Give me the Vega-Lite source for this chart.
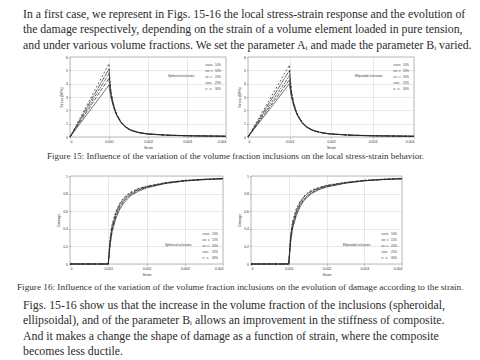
{
"$schema":"https://vega.github.io/schema/vega-lite/v6.json",
"background":"white",
"padding":{"left":17,"top":8,"right":5,"bottom":0},
"title":{"text":["In a first case, we represent in Figs. 15-16 the local stress-strain response and the evolution of","the damage respectively, depending on the strain of a volume element loaded in pure tension,","and under various volume fractions. We set the parameter Aᵢ and made the parameter Bᵢ varied."],"orient":"top","anchor":"start","frame":"group","dx":-47,"font":"Liberation Serif","fontSize":11.8,"fontWeight":"normal","color":"#2b2b2b","lineHeight":15.5,"offset":3},
"datasets":{
"stressS":[
{"strain":0,"stress":0,"vf":"10%"},{"strain":0,"stress":0,"vf":"15%"},{"strain":0,"stress":0,"vf":"20%"},{"strain":0,"stress":0,"vf":"25%"},{"strain":0,"stress":0,"vf":"30%"},
{"strain":0.001,"stress":3.9,"vf":"10%"},{"strain":0.001,"stress":4.4,"vf":"15%"},{"strain":0.001,"stress":4.75,"vf":"20%"},{"strain":0.001,"stress":5.1,"vf":"25%"},{"strain":0.001,"stress":5.5,"vf":"30%"},
{"strain":0.00102,"stress":3.45,"vf":"10%"},{"strain":0.00102,"stress":3.8,"vf":"15%"},{"strain":0.00102,"stress":4.0,"vf":"20%"},{"strain":0.00102,"stress":4.2,"vf":"25%"},{"strain":0.00102,"stress":4.4,"vf":"30%"},
{"strain":0.00105,"stress":2.95,"vf":"10%"},{"strain":0.00105,"stress":3.15,"vf":"15%"},{"strain":0.00105,"stress":3.25,"vf":"20%"},{"strain":0.00105,"stress":3.35,"vf":"25%"},{"strain":0.00105,"stress":3.45,"vf":"30%"},
{"strain":0.0011,"stress":2.4,"vf":"10%"},{"strain":0.0011,"stress":2.48,"vf":"15%"},{"strain":0.0011,"stress":2.54,"vf":"20%"},{"strain":0.0011,"stress":2.6,"vf":"25%"},{"strain":0.0011,"stress":2.65,"vf":"30%"},
{"strain":0.00115,"stress":1.95,"vf":"10%"},{"strain":0.00115,"stress":2.0,"vf":"15%"},{"strain":0.00115,"stress":2.04,"vf":"20%"},{"strain":0.00115,"stress":2.07,"vf":"25%"},{"strain":0.00115,"stress":2.1,"vf":"30%"},
{"strain":0.0012,"stress":1.6,"vf":"10%"},{"strain":0.0012,"stress":1.63,"vf":"15%"},{"strain":0.0012,"stress":1.66,"vf":"20%"},{"strain":0.0012,"stress":1.68,"vf":"25%"},{"strain":0.0012,"stress":1.7,"vf":"30%"},
{"strain":0.0013,"stress":1.1,"vf":"10%"},{"strain":0.0013,"stress":1.12,"vf":"15%"},{"strain":0.0013,"stress":1.14,"vf":"20%"},{"strain":0.0013,"stress":1.16,"vf":"25%"},{"strain":0.0013,"stress":1.18,"vf":"30%"},
{"strain":0.0014,"stress":0.78,"vf":"10%"},{"strain":0.0014,"stress":0.8,"vf":"15%"},{"strain":0.0014,"stress":0.82,"vf":"20%"},{"strain":0.0014,"stress":0.83,"vf":"25%"},{"strain":0.0014,"stress":0.85,"vf":"30%"},
{"strain":0.0015,"stress":0.58,"vf":"10%"},{"strain":0.0015,"stress":0.6,"vf":"15%"},{"strain":0.0015,"stress":0.61,"vf":"20%"},{"strain":0.0015,"stress":0.62,"vf":"25%"},{"strain":0.0015,"stress":0.63,"vf":"30%"},
{"strain":0.0016,"stress":0.45,"vf":"10%"},{"strain":0.0016,"stress":0.46,"vf":"15%"},{"strain":0.0016,"stress":0.47,"vf":"20%"},{"strain":0.0016,"stress":0.48,"vf":"25%"},{"strain":0.0016,"stress":0.49,"vf":"30%"},
{"strain":0.0018,"stress":0.3,"vf":"10%"},{"strain":0.0018,"stress":0.31,"vf":"15%"},{"strain":0.0018,"stress":0.31,"vf":"20%"},{"strain":0.0018,"stress":0.32,"vf":"25%"},{"strain":0.0018,"stress":0.32,"vf":"30%"},
{"strain":0.002,"stress":0.22,"vf":"10%"},{"strain":0.002,"stress":0.22,"vf":"15%"},{"strain":0.002,"stress":0.23,"vf":"20%"},{"strain":0.002,"stress":0.23,"vf":"25%"},{"strain":0.002,"stress":0.24,"vf":"30%"},
{"strain":0.0025,"stress":0.13,"vf":"10%"},{"strain":0.0025,"stress":0.13,"vf":"15%"},{"strain":0.0025,"stress":0.14,"vf":"20%"},{"strain":0.0025,"stress":0.14,"vf":"25%"},{"strain":0.0025,"stress":0.14,"vf":"30%"},
{"strain":0.003,"stress":0.09,"vf":"10%"},{"strain":0.003,"stress":0.09,"vf":"15%"},{"strain":0.003,"stress":0.1,"vf":"20%"},{"strain":0.003,"stress":0.1,"vf":"25%"},{"strain":0.003,"stress":0.1,"vf":"30%"},
{"strain":0.004,"stress":0.05,"vf":"10%"},{"strain":0.004,"stress":0.05,"vf":"15%"},{"strain":0.004,"stress":0.06,"vf":"20%"},{"strain":0.004,"stress":0.06,"vf":"25%"},{"strain":0.004,"stress":0.06,"vf":"30%"}
],
"stressE":[
{"strain":0,"stress":0,"vf":"10%"},{"strain":0,"stress":0,"vf":"15%"},{"strain":0,"stress":0,"vf":"20%"},{"strain":0,"stress":0,"vf":"25%"},{"strain":0,"stress":0,"vf":"30%"},
{"strain":0.001,"stress":4.0,"vf":"10%"},{"strain":0.001,"stress":4.3,"vf":"15%"},{"strain":0.001,"stress":4.6,"vf":"20%"},{"strain":0.001,"stress":5.0,"vf":"25%"},{"strain":0.001,"stress":5.4,"vf":"30%"},
{"strain":0.00102,"stress":3.5,"vf":"10%"},{"strain":0.00102,"stress":3.75,"vf":"15%"},{"strain":0.00102,"stress":3.95,"vf":"20%"},{"strain":0.00102,"stress":4.15,"vf":"25%"},{"strain":0.00102,"stress":4.35,"vf":"30%"},
{"strain":0.00105,"stress":2.95,"vf":"10%"},{"strain":0.00105,"stress":3.1,"vf":"15%"},{"strain":0.00105,"stress":3.2,"vf":"20%"},{"strain":0.00105,"stress":3.3,"vf":"25%"},{"strain":0.00105,"stress":3.4,"vf":"30%"},
{"strain":0.0011,"stress":2.35,"vf":"10%"},{"strain":0.0011,"stress":2.42,"vf":"15%"},{"strain":0.0011,"stress":2.48,"vf":"20%"},{"strain":0.0011,"stress":2.54,"vf":"25%"},{"strain":0.0011,"stress":2.6,"vf":"30%"},
{"strain":0.00115,"stress":1.9,"vf":"10%"},{"strain":0.00115,"stress":1.95,"vf":"15%"},{"strain":0.00115,"stress":1.99,"vf":"20%"},{"strain":0.00115,"stress":2.02,"vf":"25%"},{"strain":0.00115,"stress":2.05,"vf":"30%"},
{"strain":0.0012,"stress":1.55,"vf":"10%"},{"strain":0.0012,"stress":1.58,"vf":"15%"},{"strain":0.0012,"stress":1.61,"vf":"20%"},{"strain":0.0012,"stress":1.63,"vf":"25%"},{"strain":0.0012,"stress":1.65,"vf":"30%"},
{"strain":0.0013,"stress":1.05,"vf":"10%"},{"strain":0.0013,"stress":1.08,"vf":"15%"},{"strain":0.0013,"stress":1.1,"vf":"20%"},{"strain":0.0013,"stress":1.12,"vf":"25%"},{"strain":0.0013,"stress":1.14,"vf":"30%"},
{"strain":0.0014,"stress":0.75,"vf":"10%"},{"strain":0.0014,"stress":0.77,"vf":"15%"},{"strain":0.0014,"stress":0.79,"vf":"20%"},{"strain":0.0014,"stress":0.8,"vf":"25%"},{"strain":0.0014,"stress":0.82,"vf":"30%"},
{"strain":0.0015,"stress":0.57,"vf":"10%"},{"strain":0.0015,"stress":0.58,"vf":"15%"},{"strain":0.0015,"stress":0.6,"vf":"20%"},{"strain":0.0015,"stress":0.61,"vf":"25%"},{"strain":0.0015,"stress":0.62,"vf":"30%"},
{"strain":0.0016,"stress":0.44,"vf":"10%"},{"strain":0.0016,"stress":0.45,"vf":"15%"},{"strain":0.0016,"stress":0.46,"vf":"20%"},{"strain":0.0016,"stress":0.47,"vf":"25%"},{"strain":0.0016,"stress":0.48,"vf":"30%"},
{"strain":0.0018,"stress":0.3,"vf":"10%"},{"strain":0.0018,"stress":0.3,"vf":"15%"},{"strain":0.0018,"stress":0.31,"vf":"20%"},{"strain":0.0018,"stress":0.31,"vf":"25%"},{"strain":0.0018,"stress":0.32,"vf":"30%"},
{"strain":0.002,"stress":0.22,"vf":"10%"},{"strain":0.002,"stress":0.22,"vf":"15%"},{"strain":0.002,"stress":0.23,"vf":"20%"},{"strain":0.002,"stress":0.23,"vf":"25%"},{"strain":0.002,"stress":0.23,"vf":"30%"},
{"strain":0.0025,"stress":0.13,"vf":"10%"},{"strain":0.0025,"stress":0.13,"vf":"15%"},{"strain":0.0025,"stress":0.13,"vf":"20%"},{"strain":0.0025,"stress":0.14,"vf":"25%"},{"strain":0.0025,"stress":0.14,"vf":"30%"},
{"strain":0.003,"stress":0.09,"vf":"10%"},{"strain":0.003,"stress":0.09,"vf":"15%"},{"strain":0.003,"stress":0.09,"vf":"20%"},{"strain":0.003,"stress":0.1,"vf":"25%"},{"strain":0.003,"stress":0.1,"vf":"30%"},
{"strain":0.004,"stress":0.05,"vf":"10%"},{"strain":0.004,"stress":0.05,"vf":"15%"},{"strain":0.004,"stress":0.05,"vf":"20%"},{"strain":0.004,"stress":0.06,"vf":"25%"},{"strain":0.004,"stress":0.06,"vf":"30%"}
],
"damS":[
{"strain":0,"damage":0,"vf":"10%"},{"strain":0,"damage":0,"vf":"15%"},{"strain":0,"damage":0,"vf":"20%"},{"strain":0,"damage":0,"vf":"25%"},{"strain":0,"damage":0,"vf":"30%"},
{"strain":0.001,"damage":0,"vf":"10%"},{"strain":0.001,"damage":0,"vf":"15%"},{"strain":0.001,"damage":0,"vf":"20%"},{"strain":0.001,"damage":0,"vf":"25%"},{"strain":0.001,"damage":0,"vf":"30%"},
{"strain":0.00105,"damage":0.22,"vf":"10%"},{"strain":0.00105,"damage":0.24,"vf":"15%"},{"strain":0.00105,"damage":0.26,"vf":"20%"},{"strain":0.00105,"damage":0.28,"vf":"25%"},{"strain":0.00105,"damage":0.3,"vf":"30%"},
{"strain":0.0011,"damage":0.36,"vf":"10%"},{"strain":0.0011,"damage":0.39,"vf":"15%"},{"strain":0.0011,"damage":0.41,"vf":"20%"},{"strain":0.0011,"damage":0.43,"vf":"25%"},{"strain":0.0011,"damage":0.45,"vf":"30%"},
{"strain":0.0012,"damage":0.52,"vf":"10%"},{"strain":0.0012,"damage":0.54,"vf":"15%"},{"strain":0.0012,"damage":0.56,"vf":"20%"},{"strain":0.0012,"damage":0.58,"vf":"25%"},{"strain":0.0012,"damage":0.6,"vf":"30%"},
{"strain":0.0013,"damage":0.62,"vf":"10%"},{"strain":0.0013,"damage":0.64,"vf":"15%"},{"strain":0.0013,"damage":0.66,"vf":"20%"},{"strain":0.0013,"damage":0.68,"vf":"25%"},{"strain":0.0013,"damage":0.69,"vf":"30%"},
{"strain":0.0014,"damage":0.69,"vf":"10%"},{"strain":0.0014,"damage":0.71,"vf":"15%"},{"strain":0.0014,"damage":0.72,"vf":"20%"},{"strain":0.0014,"damage":0.74,"vf":"25%"},{"strain":0.0014,"damage":0.75,"vf":"30%"},
{"strain":0.0015,"damage":0.74,"vf":"10%"},{"strain":0.0015,"damage":0.76,"vf":"15%"},{"strain":0.0015,"damage":0.77,"vf":"20%"},{"strain":0.0015,"damage":0.78,"vf":"25%"},{"strain":0.0015,"damage":0.79,"vf":"30%"},
{"strain":0.0016,"damage":0.78,"vf":"10%"},{"strain":0.0016,"damage":0.79,"vf":"15%"},{"strain":0.0016,"damage":0.8,"vf":"20%"},{"strain":0.0016,"damage":0.81,"vf":"25%"},{"strain":0.0016,"damage":0.82,"vf":"30%"},
{"strain":0.0018,"damage":0.83,"vf":"10%"},{"strain":0.0018,"damage":0.84,"vf":"15%"},{"strain":0.0018,"damage":0.85,"vf":"20%"},{"strain":0.0018,"damage":0.855,"vf":"25%"},{"strain":0.0018,"damage":0.86,"vf":"30%"},
{"strain":0.002,"damage":0.865,"vf":"10%"},{"strain":0.002,"damage":0.87,"vf":"15%"},{"strain":0.002,"damage":0.875,"vf":"20%"},{"strain":0.002,"damage":0.88,"vf":"25%"},{"strain":0.002,"damage":0.885,"vf":"30%"},
{"strain":0.0025,"damage":0.915,"vf":"10%"},{"strain":0.0025,"damage":0.918,"vf":"15%"},{"strain":0.0025,"damage":0.92,"vf":"20%"},{"strain":0.0025,"damage":0.923,"vf":"25%"},{"strain":0.0025,"damage":0.925,"vf":"30%"},
{"strain":0.003,"damage":0.943,"vf":"10%"},{"strain":0.003,"damage":0.945,"vf":"15%"},{"strain":0.003,"damage":0.947,"vf":"20%"},{"strain":0.003,"damage":0.948,"vf":"25%"},{"strain":0.003,"damage":0.95,"vf":"30%"},
{"strain":0.0035,"damage":0.958,"vf":"10%"},{"strain":0.0035,"damage":0.96,"vf":"15%"},{"strain":0.0035,"damage":0.961,"vf":"20%"},{"strain":0.0035,"damage":0.962,"vf":"25%"},{"strain":0.0035,"damage":0.963,"vf":"30%"},
{"strain":0.004,"damage":0.968,"vf":"10%"},{"strain":0.004,"damage":0.969,"vf":"15%"},{"strain":0.004,"damage":0.97,"vf":"20%"},{"strain":0.004,"damage":0.971,"vf":"25%"},{"strain":0.004,"damage":0.972,"vf":"30%"}
],
"damE":[
{"strain":0,"damage":0,"vf":"10%"},{"strain":0,"damage":0,"vf":"15%"},{"strain":0,"damage":0,"vf":"20%"},{"strain":0,"damage":0,"vf":"25%"},{"strain":0,"damage":0,"vf":"30%"},
{"strain":0.001,"damage":0,"vf":"10%"},{"strain":0.001,"damage":0,"vf":"15%"},{"strain":0.001,"damage":0,"vf":"20%"},{"strain":0.001,"damage":0,"vf":"25%"},{"strain":0.001,"damage":0,"vf":"30%"},
{"strain":0.00105,"damage":0.25,"vf":"10%"},{"strain":0.00105,"damage":0.27,"vf":"15%"},{"strain":0.00105,"damage":0.29,"vf":"20%"},{"strain":0.00105,"damage":0.31,"vf":"25%"},{"strain":0.00105,"damage":0.33,"vf":"30%"},
{"strain":0.0011,"damage":0.4,"vf":"10%"},{"strain":0.0011,"damage":0.42,"vf":"15%"},{"strain":0.0011,"damage":0.44,"vf":"20%"},{"strain":0.0011,"damage":0.46,"vf":"25%"},{"strain":0.0011,"damage":0.48,"vf":"30%"},
{"strain":0.0012,"damage":0.55,"vf":"10%"},{"strain":0.0012,"damage":0.57,"vf":"15%"},{"strain":0.0012,"damage":0.59,"vf":"20%"},{"strain":0.0012,"damage":0.61,"vf":"25%"},{"strain":0.0012,"damage":0.63,"vf":"30%"},
{"strain":0.0013,"damage":0.65,"vf":"10%"},{"strain":0.0013,"damage":0.67,"vf":"15%"},{"strain":0.0013,"damage":0.68,"vf":"20%"},{"strain":0.0013,"damage":0.7,"vf":"25%"},{"strain":0.0013,"damage":0.71,"vf":"30%"},
{"strain":0.0014,"damage":0.72,"vf":"10%"},{"strain":0.0014,"damage":0.73,"vf":"15%"},{"strain":0.0014,"damage":0.74,"vf":"20%"},{"strain":0.0014,"damage":0.76,"vf":"25%"},{"strain":0.0014,"damage":0.77,"vf":"30%"},
{"strain":0.0015,"damage":0.76,"vf":"10%"},{"strain":0.0015,"damage":0.77,"vf":"15%"},{"strain":0.0015,"damage":0.78,"vf":"20%"},{"strain":0.0015,"damage":0.8,"vf":"25%"},{"strain":0.0015,"damage":0.81,"vf":"30%"},
{"strain":0.0016,"damage":0.8,"vf":"10%"},{"strain":0.0016,"damage":0.81,"vf":"15%"},{"strain":0.0016,"damage":0.82,"vf":"20%"},{"strain":0.0016,"damage":0.83,"vf":"25%"},{"strain":0.0016,"damage":0.84,"vf":"30%"},
{"strain":0.0018,"damage":0.845,"vf":"10%"},{"strain":0.0018,"damage":0.85,"vf":"15%"},{"strain":0.0018,"damage":0.86,"vf":"20%"},{"strain":0.0018,"damage":0.865,"vf":"25%"},{"strain":0.0018,"damage":0.87,"vf":"30%"},
{"strain":0.002,"damage":0.875,"vf":"10%"},{"strain":0.002,"damage":0.88,"vf":"15%"},{"strain":0.002,"damage":0.885,"vf":"20%"},{"strain":0.002,"damage":0.89,"vf":"25%"},{"strain":0.002,"damage":0.895,"vf":"30%"},
{"strain":0.0025,"damage":0.918,"vf":"10%"},{"strain":0.0025,"damage":0.92,"vf":"15%"},{"strain":0.0025,"damage":0.923,"vf":"20%"},{"strain":0.0025,"damage":0.925,"vf":"25%"},{"strain":0.0025,"damage":0.928,"vf":"30%"},
{"strain":0.003,"damage":0.945,"vf":"10%"},{"strain":0.003,"damage":0.946,"vf":"15%"},{"strain":0.003,"damage":0.948,"vf":"20%"},{"strain":0.003,"damage":0.949,"vf":"25%"},{"strain":0.003,"damage":0.951,"vf":"30%"},
{"strain":0.0035,"damage":0.959,"vf":"10%"},{"strain":0.0035,"damage":0.96,"vf":"15%"},{"strain":0.0035,"damage":0.961,"vf":"20%"},{"strain":0.0035,"damage":0.962,"vf":"25%"},{"strain":0.0035,"damage":0.964,"vf":"30%"},
{"strain":0.004,"damage":0.968,"vf":"10%"},{"strain":0.004,"damage":0.969,"vf":"15%"},{"strain":0.004,"damage":0.97,"vf":"20%"},{"strain":0.004,"damage":0.971,"vf":"25%"},{"strain":0.004,"damage":0.972,"vf":"30%"}
]
},
"spacing":12,
"vconcat":[
{
"title":{"text":"Figure 15: Influence of the variation of the volume fraction inclusions on the local stress-strain behavior.","orient":"bottom","anchor":"start","frame":"group","dx":-23,"font":"Liberation Serif","fontSize":9.0,"fontWeight":"normal","color":"#333","offset":3},
"spacing":9,
"resolve":{"scale":{"strokeDash":"independent"},"legend":{"strokeDash":"independent"}},
"hconcat":[
{"width":156,"height":80,"data":{"name":"stressS"},
"mark":{"type":"line","strokeWidth":0.7,"color":"#222"},
"encoding":{
"x":{"field":"strain","type":"quantitative","scale":{"domain":[0,0.004],"nice":false},"axis":{"title":"Strain","values":[0,0.001,0.002,0.003,0.004],"format":".3~f"}},
"y":{"field":"stress","type":"quantitative","scale":{"domain":[0,6],"nice":false},"axis":{"title":"Stress (MPa)","values":[0,1,2,3,4,5,6]}},
"strokeDash":{"field":"vf","type":"nominal","scale":{"domain":["10%","15%","20%","25%","30%"],"range":[[1,0],[4,1.5],[3,1,1,1],[6,1],[2,2]]},"legend":{"title":"Spherical inclusions","orient":"top-right"}}}},
{"width":166,"height":80,"data":{"name":"stressE"},
"mark":{"type":"line","strokeWidth":0.7,"color":"#222"},
"encoding":{
"x":{"field":"strain","type":"quantitative","scale":{"domain":[0,0.004],"nice":false},"axis":{"title":"Strain","values":[0,0.001,0.002,0.003,0.004],"format":".3~f"}},
"y":{"field":"stress","type":"quantitative","scale":{"domain":[0,6],"nice":false},"axis":{"title":"Stress (MPa)","values":[0,1,2,3,4,5,6]}},
"strokeDash":{"field":"vf","type":"nominal","scale":{"domain":["10%","15%","20%","25%","30%"],"range":[[1,0],[4,1.5],[3,1,1,1],[6,1],[2,2]]},"legend":{"title":"Ellipsoidal inclusions","orient":"top-right"}}}}
]
},
{
"title":{"text":["Figs. 15-16 show us that the increase in the volume fraction of the inclusions (spheroidal,","ellipsoidal), and of the parameter Bᵢ allows an improvement in the stiffness of composite.","And it makes a change the shape of damage as a function of strain, where the composite","becomes less ductile."],"orient":"bottom","anchor":"start","frame":"group","dx":-47,"font":"Liberation Serif","fontSize":11.8,"fontWeight":"normal","color":"#2b2b2b","lineHeight":15.5,"offset":8},
"vconcat":[
{
"title":{"text":"Figure 16: Influence of the variation of the volume fraction inclusions on the evolution of damage according to the strain.","orient":"bottom","anchor":"start","frame":"group","dx":-53,"font":"Liberation Serif","fontSize":9.2,"fontWeight":"normal","color":"#333","offset":7},
"spacing":12,
"resolve":{"scale":{"strokeDash":"independent"},"legend":{"strokeDash":"independent"}},
"hconcat":[
{"width":153,"height":88,"data":{"name":"damS"},
"mark":{"type":"line","strokeWidth":0.7,"color":"#222"},
"encoding":{
"x":{"field":"strain","type":"quantitative","scale":{"domain":[0,0.004],"nice":false},"axis":{"title":"Strain","values":[0,0.001,0.002,0.003,0.004],"format":".3~f"}},
"y":{"field":"damage","type":"quantitative","scale":{"domain":[0,1],"nice":false},"axis":{"title":"Damage","values":[0,0.2,0.4,0.6,0.8,1],"format":"~g"}},
"strokeDash":{"field":"vf","type":"nominal","scale":{"domain":["10%","15%","20%","25%","30%"],"range":[[1,0],[4,1.5],[3,1,1,1],[6,1],[2,2]]},"legend":{"title":"Spherical inclusions","orient":"bottom-right"}}}},
{"width":151,"height":88,"data":{"name":"damE"},
"mark":{"type":"line","strokeWidth":0.7,"color":"#222"},
"encoding":{
"x":{"field":"strain","type":"quantitative","scale":{"domain":[0,0.004],"nice":false},"axis":{"title":"Strain","values":[0,0.001,0.002,0.003,0.004],"format":".3~f"}},
"y":{"field":"damage","type":"quantitative","scale":{"domain":[0,1],"nice":false},"axis":{"title":"Damage","values":[0,0.2,0.4,0.6,0.8,1],"format":"~g"}},
"strokeDash":{"field":"vf","type":"nominal","scale":{"domain":["10%","15%","20%","25%","30%"],"range":[[1,0],[4,1.5],[3,1,1,1],[6,1],[2,2]]},"legend":{"title":"Ellipsoidal inclusions","orient":"bottom-right"}}}}
]
}
]
}
],
"config":{
"view":{"stroke":"#777","strokeWidth":0.5},
"axis":{"labelFont":"Liberation Sans","labelFontSize":3.5,"titleFont":"Liberation Sans","titleFontSize":3.5,"titleFontWeight":"normal","tickSize":1.5,"labelPadding":1,"titlePadding":2,"gridColor":"#d0d0d0","gridWidth":0.5,"domain":false,"tickColor":"#777","tickWidth":0.5,"labelColor":"#333","titleColor":"#333","labelOverlap":false},
"legend":{"titleOrient":"left","titleFontSize":3,"labelFontSize":3,"titleFont":"Liberation Sans","labelFont":"Liberation Sans","titleFontWeight":"normal","titleColor":"#333","labelColor":"#333","symbolType":"stroke","symbolSize":50,"symbolStrokeWidth":0.6,"symbolStrokeColor":"#222","rowPadding":0,"titlePadding":10,"offset":3,"labelOffset":2,"padding":1}
}
}
